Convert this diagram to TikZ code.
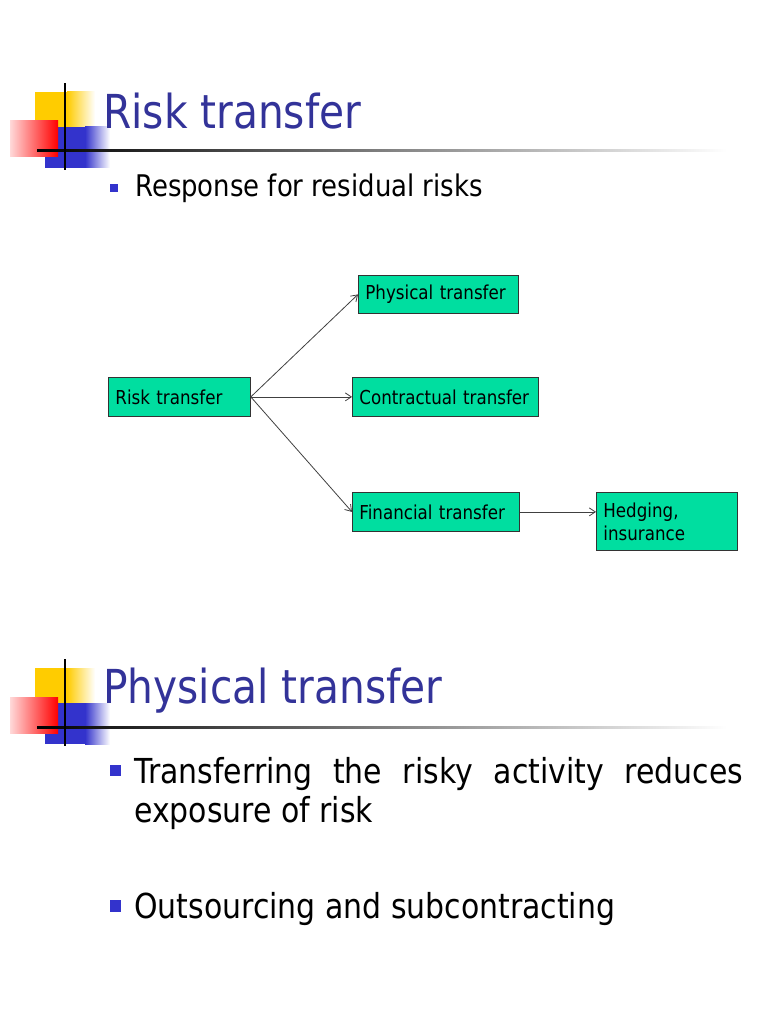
\documentclass[tikz,border=0pt]{standalone}
\usepackage{fontspec}
\setmainfont{DejaVu Sans}[FakeStretch=0.87]
\usepackage{tikz}
\usetikzlibrary{arrows.meta, positioning, calc}
\usepackage{xcolor}
\definecolor{boxgreen}{HTML}{00DEA0}
\definecolor{titleblue}{HTML}{333399}
\definecolor{bulletblue}{HTML}{3333CC}
\definecolor{logoyellow}{HTML}{FFCC00}
\definecolor{logored}{HTML}{FF0000}

\begin{document}
\begin{tikzpicture}[x=1pt, y=-1pt,
    bx/.style={draw=black!80, fill=boxgreen, line width=0.8pt, anchor=north west,
      inner xsep=7pt, inner ysep=0pt, align=left, font=\fontsize{19.2}{23}\selectfont},
    ttl/.style={anchor=base west, inner sep=0, text=titleblue, font=\fontsize{46.8}{56}\selectfont},
    txt/.style={anchor=base west, inner sep=0},
    lnk/.style={->, line width=0.8pt, black!75},
    >={Straight Barb[length=6pt,width=8pt]}]
\useasboundingbox (0,0) rectangle (768,1024);
% slide logos and title rules
\foreach \oy in {0,576} {
  \fill[logoyellow] (35,92+\oy) rectangle (67,127+\oy);
  \shade[left color=logoyellow, right color=white] (67,92+\oy) rectangle (95,127+\oy);
  \fill[bulletblue] (45,127+\oy) rectangle (85,168+\oy);
  \shade[left color=bulletblue, right color=white] (85,127+\oy) rectangle (110,168+\oy);
  \shade[left color=logored!15, right color=logored] (10,121+\oy) rectangle (58,157+\oy);
  \shade[left color=black, right color=white] (37,150+\oy) rectangle (727,152+\oy);
  \fill[black] (64,83+\oy) rectangle (66,170+\oy);
}
\node[ttl] (t1) at (103,129) {Risk transfer};
\node[ttl] (t2) at (103,703) {Physical transfer};
% first slide
\fill[bulletblue] (110,184) rectangle (118,192);
\node[txt, font=\fontsize{29.8}{34}\selectfont] (resp) at (135,197) {Response for residual risks};
\node[bx, text width=128pt, minimum height=39pt] (rt)    at (108,377) {Risk transfer};
\node[bx, text width=146pt, minimum height=38pt] (phys)  at (358,275) {Physical transfer};
\node[bx, text width=172pt, minimum height=39pt] (contr) at (352,377) {Contractual transfer};
\node[bx, text width=153pt, minimum height=39pt] (fin)   at (352,492) {Financial transfer};
\node[bx, text width=127pt, minimum height=58pt] (hedge) at (596,492) {Hedging,\\insurance};
\draw[lnk] (rt.east) -- (phys.west);
\draw[lnk] (rt.east) -- (contr.west);
\draw[lnk] (rt.east) -- (fin.west);
\draw[lnk] (fin.east) -- (fin.east -| hedge.west);
% second slide
\fill[bulletblue] (110,765) rectangle (121,776);
\fill[bulletblue] (110,900) rectangle (121,912);
\node[txt, font=\fontsize{34.4}{39}\selectfont] (trf) at (134,783)
  {\makebox[609pt][s]{Transferring the risky activity reduces}};
\node[txt, font=\fontsize{34.4}{39}\selectfont] (expo) at (134,822) {exposure of risk};
\node[txt, font=\fontsize{34.4}{39}\selectfont] (outs) at (134,918) {Outsourcing and subcontracting};
\end{tikzpicture}
\end{document}
